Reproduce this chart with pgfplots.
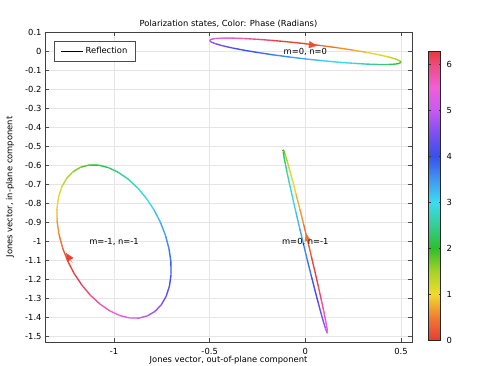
\documentclass[border=0pt]{standalone}
\usepackage{pgfplots}
\usepackage{pgfplotstable}
\pgfplotsset{compat=1.18}
\usepackage{fontspec}
\setmainfont{DejaVu Sans}
\usetikzlibrary{arrows.meta}
\definecolor{arrA}{RGB}{236,80,45}
\definecolor{arrB}{RGB}{240,115,40}
\definecolor{arrC}{RGB}{235,65,50}

\pgfplotstableread{
x y c
-0.0891 0.0495 0.0000
-0.0024 0.0403 0.1745
0.0845 0.0298 0.3491
0.1688 0.0185 0.5236
0.2480 0.0064 0.6981
0.3197 -0.0056 0.8727
0.3814 -0.0176 1.0472
0.4319 -0.0290 1.2217
0.4691 -0.0396 1.3963
0.4920 -0.0490 1.5708
0.5000 -0.0568 1.7453
0.4928 -0.0630 1.9199
0.4707 -0.0672 2.0944
0.4342 -0.0693 2.2689
0.3845 -0.0694 2.4435
0.3233 -0.0674 2.6180
0.2521 -0.0632 2.7925
0.1733 -0.0573 2.9671
0.0891 -0.0495 3.1416
0.0024 -0.0403 3.3161
-0.0845 -0.0298 3.4907
-0.1688 -0.0185 3.6652
-0.2480 -0.0064 3.8397
-0.3197 0.0056 4.0143
-0.3814 0.0176 4.1888
-0.4319 0.0290 4.3633
-0.4691 0.0396 4.5379
-0.4920 0.0490 4.7124
-0.5000 0.0568 4.8869
-0.4928 0.0630 5.0615
-0.4707 0.0672 5.2360
-0.4342 0.0693 5.4105
-0.3845 0.0694 5.5851
-0.3233 0.0674 5.7596
-0.2521 0.0632 5.9341
-0.1733 0.0573 6.1087
-0.0891 0.0495 6.2832
}\ellA

\pgfplotstableread{
x y c
0.0496 -1.1560 0.0000
0.0306 -1.0743 0.1745
0.0107 -0.9904 0.3491
-0.0095 -0.9068 0.5236
-0.0296 -0.8260 0.6981
-0.0486 -0.7505 0.8727
-0.0662 -0.6825 1.0472
-0.0817 -0.6243 1.2217
-0.0949 -0.5774 1.3963
-0.1051 -0.5434 1.5708
-0.1121 -0.5232 1.7453
-0.1158 -0.5176 1.9199
-0.1158 -0.5266 2.0944
-0.1124 -0.5500 2.2689
-0.1056 -0.5870 2.4435
-0.0956 -0.6367 2.6180
-0.0826 -0.6973 2.7925
-0.0672 -0.7671 2.9671
-0.0496 -0.8440 3.1416
-0.0306 -0.9257 3.3161
-0.0107 -1.0096 3.4907
0.0095 -1.0932 3.6652
0.0296 -1.1740 3.8397
0.0486 -1.2495 4.0143
0.0662 -1.3175 4.1888
0.0817 -1.3757 4.3633
0.0949 -1.4226 4.5379
0.1051 -1.4566 4.7124
0.1121 -1.4768 4.8869
0.1158 -1.4824 5.0615
0.1158 -1.4734 5.2360
0.1124 -1.4500 5.4105
0.1056 -1.4130 5.5851
0.0956 -1.3633 5.7596
0.0826 -1.3027 5.9341
0.0672 -1.2329 6.1087
0.0496 -1.1560 6.2832
}\ellB

\pgfplotstableread{
x y c
-1.2083 -1.1679 0.0000
-1.2424 -1.1016 0.1745
-1.2691 -1.0323 0.3491
-1.2876 -0.9620 0.5236
-1.2974 -0.8928 0.6981
-1.2982 -0.8269 0.8727
-1.2899 -0.7662 1.0472
-1.2728 -0.7127 1.2217
-1.2474 -0.6678 1.3963
-1.2144 -0.6331 1.5708
-1.1751 -0.6095 1.7453
-1.1303 -0.5978 1.9199
-1.0816 -0.5983 2.0944
-1.0304 -0.6110 2.2689
-0.9783 -0.6355 2.4435
-0.9269 -0.6711 2.6180
-0.8776 -0.7167 2.7925
-0.8321 -0.7709 2.9671
-0.7917 -0.8321 3.1416
-0.7576 -0.8984 3.3161
-0.7309 -0.9677 3.4907
-0.7124 -1.0380 3.6652
-0.7026 -1.1072 3.8397
-0.7018 -1.1731 4.0143
-0.7101 -1.2338 4.1888
-0.7272 -1.2873 4.3633
-0.7526 -1.3322 4.5379
-0.7856 -1.3669 4.7124
-0.8249 -1.3905 4.8869
-0.8697 -1.4022 5.0615
-0.9184 -1.4017 5.2360
-0.9696 -1.3890 5.4105
-1.0217 -1.3645 5.5851
-1.0731 -1.3289 5.7596
-1.1224 -1.2833 5.9341
-1.1679 -1.2291 6.1087
-1.2083 -1.1679 6.2832
}\ellC

\begin{document}
\begin{tikzpicture}
\useasboundingbox (-45bp,-24bp) rectangle (434bp,342bp);
\begin{axis}[
  at={(0,0)}, anchor=south west,
  scale only axis, width=367bp, height=310bp,
  font=\fontsize{8.4}{10}\selectfont,
  /pgf/number format/assume math mode=true,
  xmin=-1.3606, xmax=0.5575, ymin=-1.528, ymax=0.1015,
  xtick={-1,-0.5,0,0.5},
  ytick={-1.5,-1.4,-1.3,-1.2,-1.1,-1,-0.9,-0.8,-0.7,-0.6,-0.5,-0.4,-0.3,-0.2,-0.1,0,0.1},
  tick align=inside, major tick length=4bp,
  tick style={black!70, line width=0.5pt},
  axis line style={black!75, line width=0.8pt},
  grid=major, major grid style={black!10, line width=0.6pt},
  xticklabel style={anchor=base, inner sep=0pt, yshift=-12.5bp},
  yticklabel style={anchor=east, inner sep=0pt, xshift=-3.3bp},
  title={Polarization states, Color: Phase (Radians)},
  title style={at={(0.5,1)}, anchor=base, yshift=0bp, inner sep=0pt},
  xlabel={Jones vector, out-of-plane component},
  xlabel style={at={(0.5,0)}, anchor=base, yshift=-20.5bp, inner sep=0pt},
  ylabel={Jones vector, in-plane component},
  ylabel style={at={(0,0.5)}, anchor=base, yshift=32.5bp, inner sep=0pt},
  colormap={comsolcyc}{
    rgb255(0cm)=(232,58,52);
    rgb255(0.5cm)=(240,125,50);
    rgb255(1cm)=(240,220,45);
    rgb255(1.5cm)=(165,210,40);
    rgb255(2cm)=(45,190,45);
    rgb255(2.5cm)=(55,205,150);
    rgb255(3cm)=(60,220,240);
    rgb255(3.5cm)=(65,150,240);
    rgb255(4cm)=(55,80,235);
    rgb255(4.5cm)=(125,80,240);
    rgb255(5cm)=(200,90,240);
    rgb255(5.5cm)=(240,95,215);
    rgb255(6cm)=(238,75,125);
    rgb255(6.2832cm)=(232,58,52)
  },
  point meta min=0, point meta max=6.2832,
  colorbar,
  colorbar style={
    at={(parent axis.north east)}, anchor=north west,
    xshift=8bp, yshift=-19bp,
    scale only axis, width=12bp, height=289bp,
    font=\fontsize{8.4}{10}\selectfont,
    /pgf/number format/assume math mode=true,
    ytick={0,1,2,3,4,5,6},
    tick align=inside, major tick length=2bp,
    tick style={black!80, line width=0.6pt},
    axis line style={black!85, line width=0.8pt},
    yticklabel style={anchor=west, inner sep=0pt, xshift=6bp},
  },
  legend style={at={(0.025,0.971)}, anchor=north west,
    draw=black!70, line width=1.1pt,
    fill=white, inner xsep=6bp, inner ysep=4bp,
    font=\fontsize{8.4}{10}\selectfont},
  legend image code/.code={\draw[black, line width=1pt] (0bp,0bp) -- (22bp,0bp);},
]
\addplot[mesh, point meta=explicit, line width=1.4bp, line join=round, forget plot] table[x=x, y=y, meta=c] {\ellA};
\addplot[mesh, point meta=explicit, line width=1.4bp, line join=round, forget plot] table[x=x, y=y, meta=c] {\ellB};
\addplot[mesh, point meta=explicit, line width=1.4bp, line join=round, forget plot] table[x=x, y=y, meta=c] {\ellC};
\addplot[arrA, line width=0.2pt, -{Triangle[length=8bp,width=7bp]}, forget plot] coordinates {(0.0,0.037) (0.061,0.030)};
\addplot[arrB, line width=0.2pt, -{Triangle[length=8bp,width=6bp]}, forget plot] coordinates {(0.013,-1.0) (0.002,-0.955)};
\addplot[arrC, line width=0.2pt, -{Triangle[length=8bp,width=7bp]}, forget plot] coordinates {(-1.216,-1.114) (-1.251,-1.061)};
\addlegendimage{black, line width=1pt}
\addlegendentry{Reflection}
\node[anchor=center, inner sep=0pt] at (axis cs:0,-0.005) {m=0, n=0};
\node[anchor=center, inner sep=0pt] at (axis cs:0,-1) {m=0, n=-1};
\node[anchor=center, inner sep=0pt] at (axis cs:-1,-1) {m=-1, n=-1};
\end{axis}
\end{tikzpicture}
\end{document}
